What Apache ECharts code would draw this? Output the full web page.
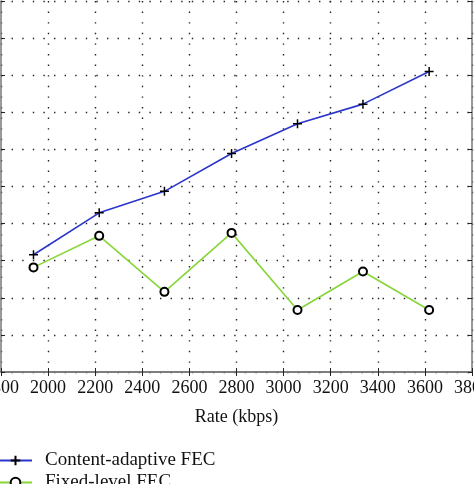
<!DOCTYPE html>
<html>
<head>
<meta charset="utf-8">
<script src="https://cdn.jsdelivr.net/npm/echarts@6/dist/echarts.min.js"></script>
<style>html,body{margin:0;padding:0;background:#fff;}#c{width:474px;height:484px;}</style>
</head>
<body>
<div id="c"></div>
<script>
var rates = [1938, 2217, 2494, 2779, 3059, 3337, 3618];
var adaptive = [3.16, 4.29, 4.87, 5.89, 6.69, 7.22, 8.10];
var fixed = [2.82, 3.67, 2.16, 3.75, 1.67, 2.71, 1.67];
var seriesNames = ['Content-adaptive FEC', 'Fixed-level FEC'];
var xTicks = [1800, 3800, 200];
var yRange = [0, 10, 1];

function pairs(xs, ys) { return xs.map(function (x, i) { return [x, ys[i]]; }); }

var chart = echarts.init(document.getElementById('c'));
var font = 'Liberation Serif';
var axisLine = { show: true, lineStyle: { color: '#777', width: 1.5 } };
var tick = { show: true, inside: true, length: 4, lineStyle: { color: '#222', width: 1 } };
var grid = { show: true, lineStyle: { color: '#222', type: [1.4, 9.2], width: 1.4 } };
function legendAt(name, top) {
  return {
    orient: 'vertical', left: -7, top: top, itemWidth: 33, itemHeight: 12, itemGap: 0,
    textStyle: { fontFamily: font, fontSize: 19, color: '#111', padding: [0, 0, 0, 8] },
    data: [name]
  };
}
chart.setOption({
  animation: false,
  grid: { left: 1, right: 2, top: 1, bottom: 112, containLabel: false, outerBoundsMode: 'none' },
  legend: [legendAt(seriesNames[0], 446), legendAt(seriesNames[1], 468)],
  xAxis: [{
    type: 'value', min: xTicks[0], max: xTicks[1], interval: xTicks[2], position: 'bottom',
    axisLine: axisLine, axisTick: tick, splitLine: grid,
    axisLabel: { fontFamily: font, fontSize: 18, color: '#111', margin: 7, showMinLabel: true, showMaxLabel: true,
      formatter: function (v) { return String(v); } },
    name: 'Rate (kbps)', nameLocation: 'middle', nameGap: 36,
    nameTextStyle: { fontFamily: font, fontSize: 18, color: '#111' }
  }, {
    type: 'value', min: xTicks[0], max: xTicks[1], interval: xTicks[2], position: 'top',
    axisLine: axisLine, axisTick: tick, splitLine: { show: false }, axisLabel: { show: false }
  }],
  yAxis: [{
    type: 'value', min: yRange[0], max: yRange[1], interval: yRange[2], position: 'left',
    axisLine: axisLine, axisTick: tick, splitLine: grid, axisLabel: { show: false }
  }, {
    type: 'value', min: yRange[0], max: yRange[1], interval: yRange[2], position: 'right',
    axisLine: axisLine, axisTick: tick, splitLine: { show: false }, axisLabel: { show: false }
  }],
  series: [{
    name: seriesNames[0], type: 'line', data: pairs(rates, adaptive),
    symbol: 'path://M0,5L10,5M5,0L5,10', symbolSize: 9, showAllSymbol: true,
    lineStyle: { color: '#2a35cc', width: 1.6 },
    itemStyle: { color: 'none', borderColor: '#000', borderWidth: 1.5 }
  }, {
    name: seriesNames[1], type: 'line', data: pairs(rates, fixed),
    symbol: 'emptyCircle', symbolSize: 8, showAllSymbol: true,
    lineStyle: { color: '#86d63a', width: 1.6 },
    itemStyle: { color: '#000', borderColor: '#000', borderWidth: 1.8 }
  }]
});
</script>
</body>
</html>
